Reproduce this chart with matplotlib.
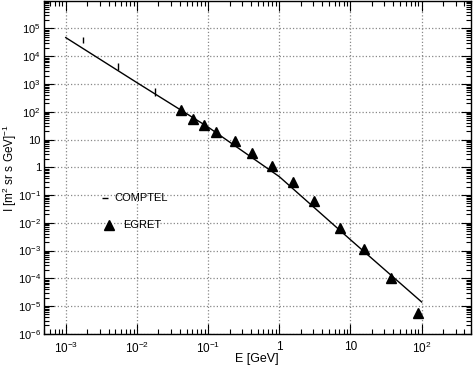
import matplotlib
matplotlib.use('Agg')
import matplotlib.pyplot as plt
import matplotlib.ticker as mticker
import numpy as np

plt.rcParams['font.family'] = ['Liberation Sans', 'DejaVu Sans']
plt.rcParams['mathtext.default'] = 'regular'

# model curve (broken power law)
line_e = [1e-3, 1e-2, 1e-1, 1.0, 10.0, 100.0]
line_i = [4.7e4, 1.12e3, 2.8e1, 4.6e-1, 2.45e-3, 1.4e-5]

# COMPTEL points (shown as bars only)
comptel_e = [1.73e-3, 5.5e-3, 1.81e-2]
comptel_lo = [2.9e4, 3.3e3, 3.7e2]
comptel_hi = [5.0e4, 5.75e3, 6.9e2]

# EGRET points
egret_e = [0.0416, 0.0619, 0.0875, 0.129, 0.237, 0.414, 0.78, 1.54, 3.1,
           7.2, 15.6, 36.7, 88.7]
egret_i = [117, 54, 32, 18.8, 8.5, 3.3, 1.12, 0.29, 0.061,
           0.0066, 0.00109, 1.0e-4, 5.5e-6]

xticks = [1e-3, 1e-2, 1e-1, 1, 10, 100]
xticklabels = ['$10^{-3}$', '$10^{-2}$', '$10^{-1}$', '1', '10', '$10^{2}$']
yticks = [1e-6, 1e-5, 1e-4, 1e-3, 1e-2, 1e-1, 1, 10, 1e2, 1e3, 1e4, 1e5]
yticklabels = ['$10^{-6}$', '$10^{-5}$', '$10^{-4}$', '$10^{-3}$', '$10^{-2}$',
               '$10^{-1}$', '1', '10', '$10^{2}$', '$10^{3}$', '$10^{4}$', '$10^{5}$']

fig = plt.figure(figsize=(4.74, 3.66), dpi=100)
ax = fig.add_axes([0.0935, 0.088, 0.901, 0.910])

ax.plot(line_e, line_i, color='black', lw=1.0)
ax.vlines(comptel_e, comptel_lo, comptel_hi, color='black', lw=1.0)
ax.plot(egret_e, egret_i, linestyle='none', marker='^', color='black', ms=6.5)

ax.set_xscale('log')
ax.set_yscale('log')
ax.set_xlim(5e-4, 500)
ax.set_ylim(1e-6, 1e6)

ax.set_xticks(xticks)
ax.set_xticklabels(xticklabels)
ax.set_yticks(yticks)
ax.set_yticklabels(yticklabels)
ax.xaxis.set_minor_locator(mticker.LogLocator(base=10, subs=np.arange(2, 10), numticks=20))
ax.yaxis.set_minor_locator(mticker.LogLocator(base=10, subs=np.arange(2, 10), numticks=30))
ax.xaxis.set_minor_formatter(mticker.NullFormatter())
ax.yaxis.set_minor_formatter(mticker.NullFormatter())

ax.tick_params(which='both', direction='in', top=True, right=True, labelsize=8.5, width=0.8)
ax.tick_params(axis='y', which='major', labelsize=8, pad=2.5)
ax.tick_params(which='major', length=7)
ax.tick_params(axis='x', which='major', pad=5)
ax.tick_params(which='minor', length=3.5)
ax.grid(True, which='major', linestyle=':', color='#888888', lw=0.9)

for s in ax.spines.values():
    s.set_linewidth(1.0)

# legend drawn by hand
ax.plot([0.141], [0.408], transform=ax.transAxes, marker='_', ms=5, color='black', mew=1.0)
ax.text(0.165, 0.408, 'COMPTEL', transform=ax.transAxes, fontsize=8, va='center')
ax.plot([0.151], [0.328], transform=ax.transAxes, marker='^', ms=6.5, color='black')
ax.text(0.184, 0.328, 'EGRET', transform=ax.transAxes, fontsize=8, va='center')

fig.text(0.541, 0.003, 'E [GeV]', fontsize=9, ha='center', va='bottom')
fig.text(0.002, 0.54, 'I [m$^2$ sr s GeV]$^{-1}$', fontsize=8.5, rotation=90,
         ha='left', va='center')

fig.savefig('out.png', dpi=100)
